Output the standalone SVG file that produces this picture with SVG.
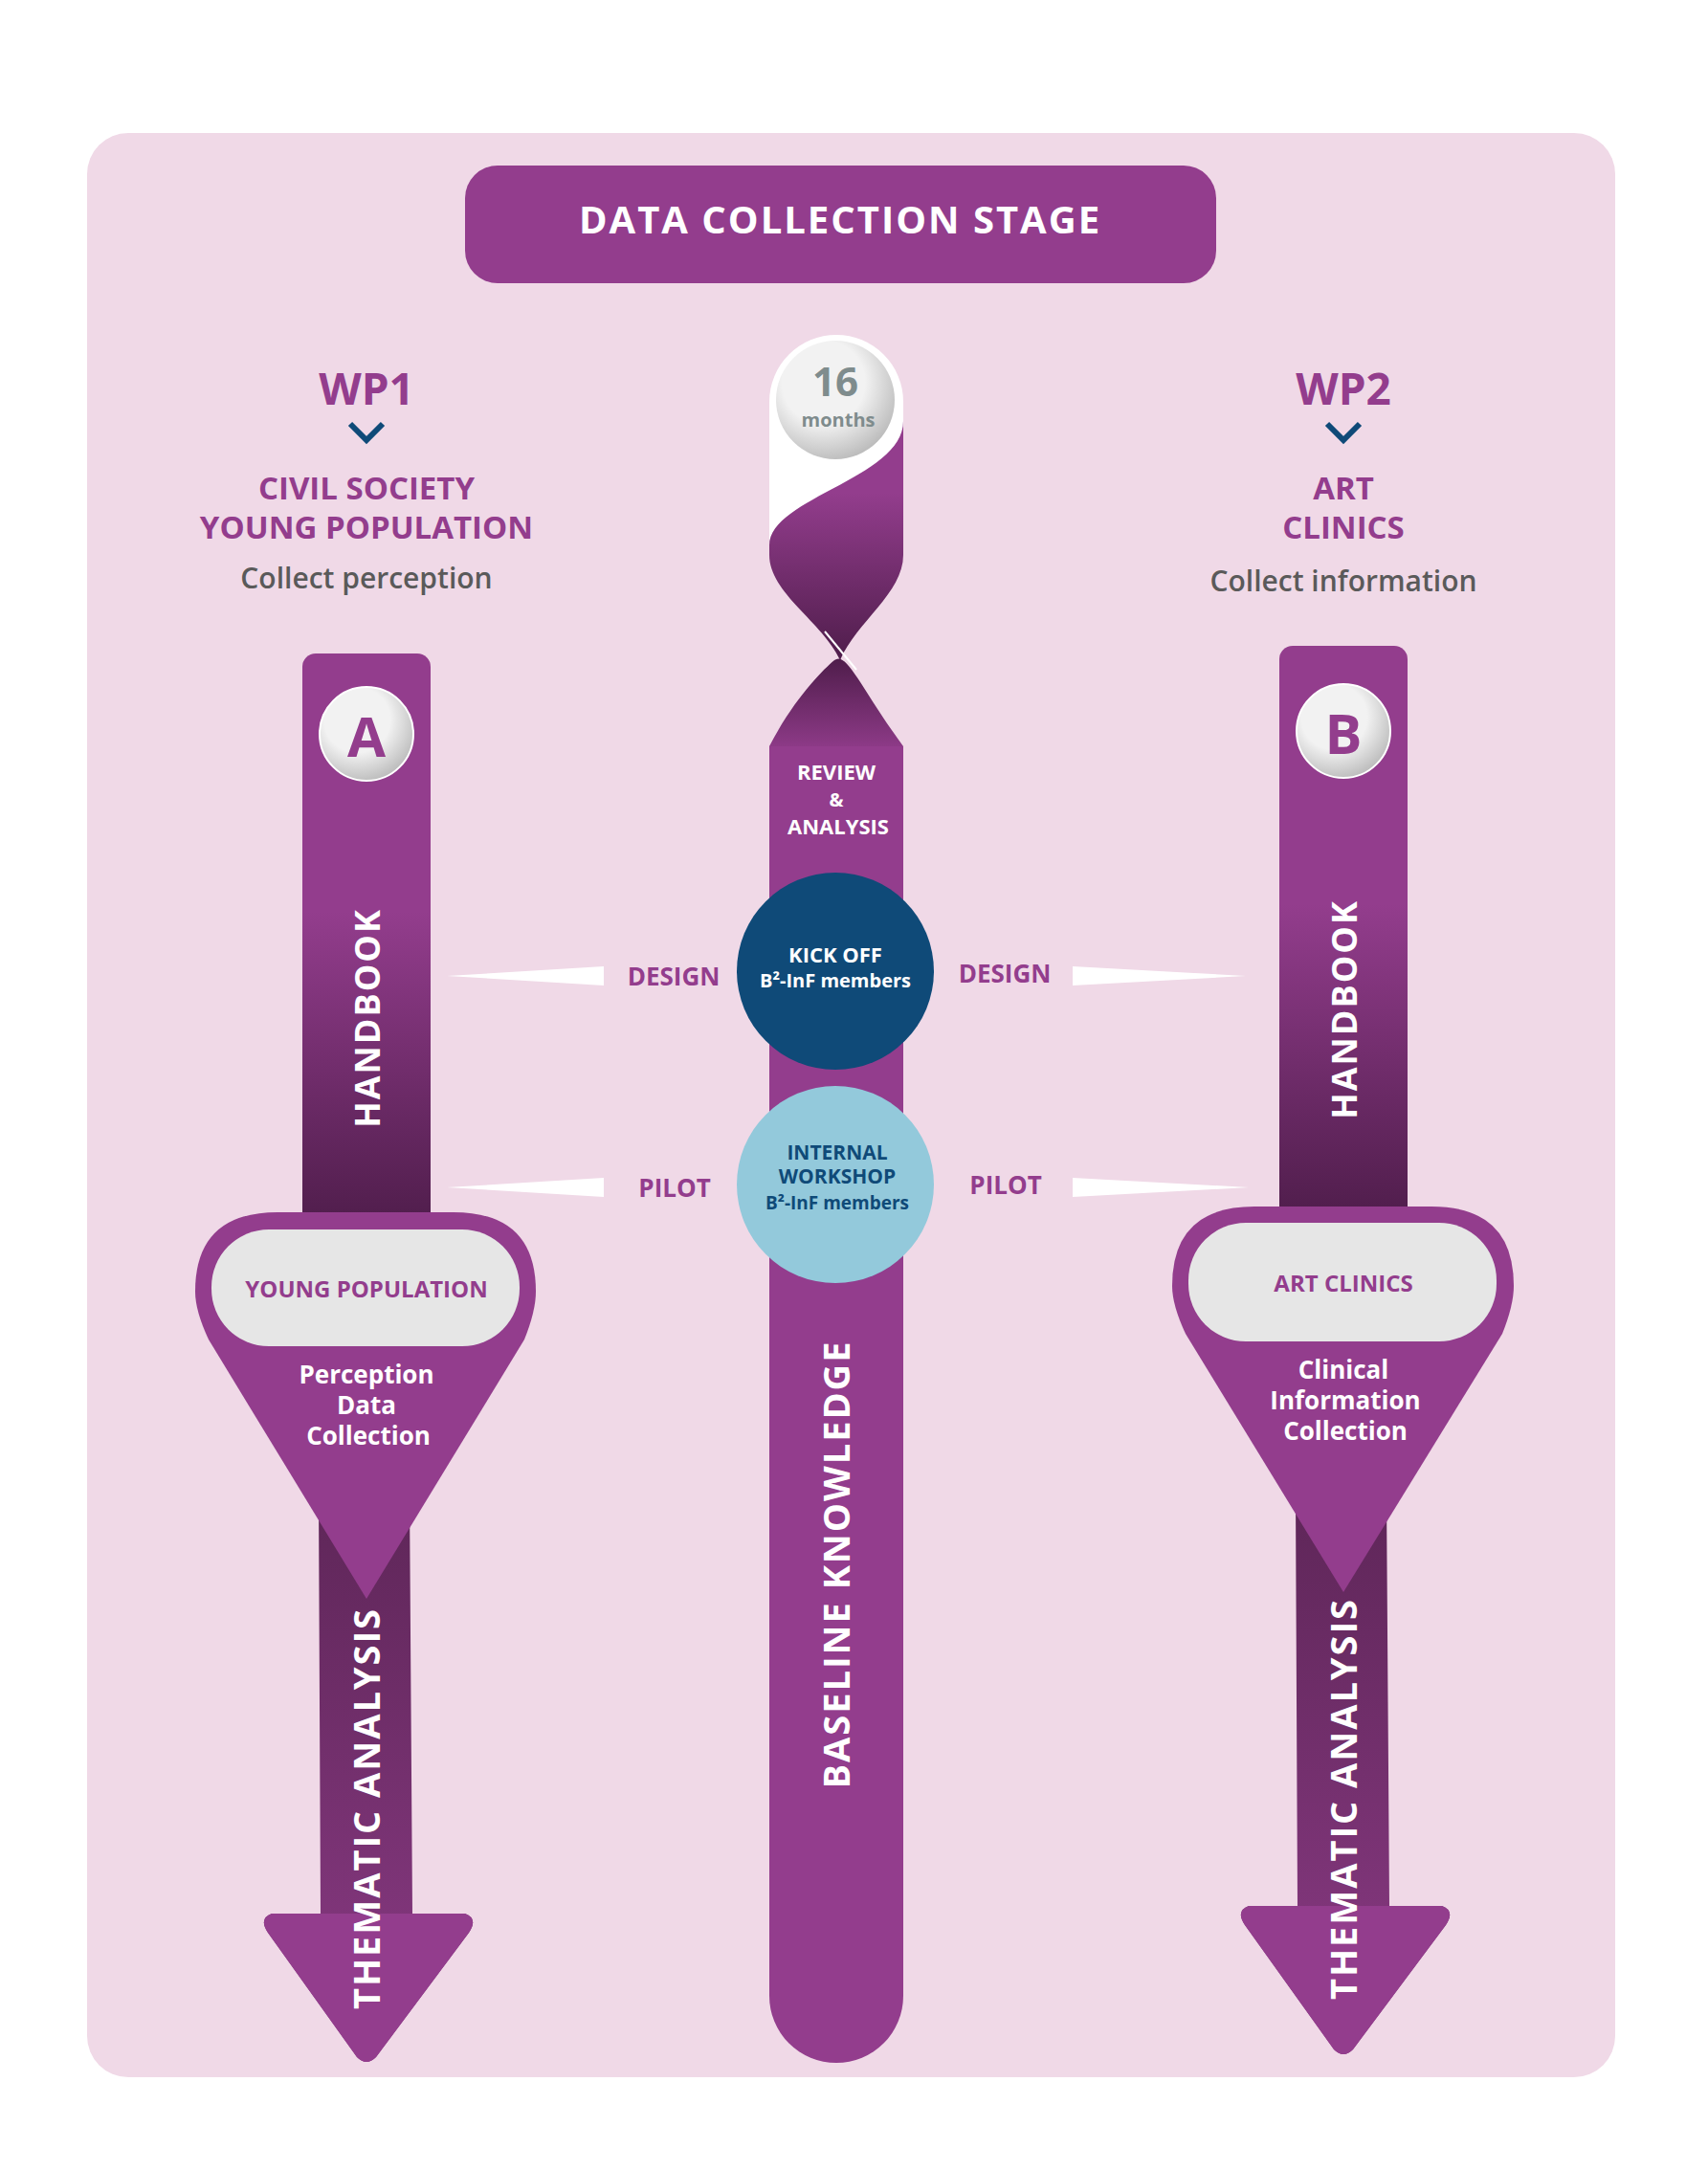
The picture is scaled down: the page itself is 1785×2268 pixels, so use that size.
<svg xmlns="http://www.w3.org/2000/svg" width="1785" height="2268" viewBox="0 0 1785 2268">
<defs>
<linearGradient id="barG" x1="0" y1="0" x2="0" y2="1"><stop offset="0.45" stop-color="#933d8d"/><stop offset="1" stop-color="#4f1d4b"/></linearGradient>
<linearGradient id="shaftG" x1="0" y1="0" x2="0" y2="1"><stop offset="0" stop-color="#5e2658"/><stop offset="1" stop-color="#8a3a84"/></linearGradient>
<linearGradient id="twU" x1="0" y1="0" x2="0" y2="1"><stop offset="0.3" stop-color="#933d8d"/><stop offset="1" stop-color="#4f1d4b"/></linearGradient>
<linearGradient id="twL" x1="0" y1="0" x2="0" y2="1"><stop offset="0" stop-color="#4f1d4b"/><stop offset="1" stop-color="#933d8d"/></linearGradient>
<radialGradient id="circG" cx="0.4" cy="0.35" r="0.7"><stop offset="0.5" stop-color="#f2f2f2"/><stop offset="1" stop-color="#b8b8b8"/></radialGradient>
<style>
text{font-family:"Open Sans","Liberation Sans",sans-serif;text-anchor:middle;font-weight:700}
.w{fill:#fff}.p{fill:#933d8d}.g{fill:#5a5a5a;font-weight:600}
.lbl{font-size:26px;fill:#933d8d}
.wedge{fill:#fff}
</style>
</defs>
<rect x="91" y="139" width="1597" height="2032" rx="43" fill="#f0d9e7"/>
<g id="title"><rect x="486" y="173" width="785" height="123" rx="34" fill="#933d8d"/><text x="878" y="244" class="w" font-size="40" letter-spacing="2">DATA COLLECTION STAGE</text></g>
<g id="wp1">
<text x="383" y="423" class="p" font-size="46" font-weight="500">WP<tspan font-weight="700">1</tspan></text>
<path d="M366 443 L383 460 L400 443" fill="none" stroke="#0f4a78" stroke-width="6"/>
<text x="383" y="522" class="p" font-size="33">CIVIL SOCIETY</text>
<text x="383" y="563" class="p" font-size="33">YOUNG POPULATION</text>
<text x="383" y="615" class="g" font-size="30">Collect perception</text>
</g>
<g id="wp2">
<text x="1404" y="423" class="p" font-size="46" font-weight="500">WP<tspan font-weight="700">2</tspan></text>
<path d="M1387 443 L1404 460 L1421 443" fill="none" stroke="#0f4a78" stroke-width="6"/>
<text x="1404" y="522" class="p" font-size="33">ART</text>
<text x="1404" y="563" class="p" font-size="33">CLINICS</text>
<text x="1404" y="618" class="g" font-size="30">Collect information</text>
</g>
<g id="connectors">
<polygon class="wedge" points="467,1020 631,1010 631,1030"/>
<polygon class="wedge" points="1302,1020 1121,1010 1121,1030"/>
<polygon class="wedge" points="467,1241 631,1231 631,1251"/>
<polygon class="wedge" points="1305,1241 1121,1231 1121,1251"/>
<text x="704" y="1030" class="lbl">DESIGN</text>
<text x="1050" y="1027" class="lbl">DESIGN</text>
<text x="705" y="1251" class="lbl">PILOT</text>
<text x="1051" y="1248" class="lbl">PILOT</text>
</g>
<g id="left">
<path d="M333 1560 H428 L431 2000 H486 Q500 2005 490 2020 L393 2150 Q383 2160 373 2150 L280 2020 Q270 2005 284 2000 H335 Z" fill="url(#shaftG)"/>
<path d="M284 2000 H486 Q500 2005 490 2020 L393 2150 Q383 2160 373 2150 L280 2020 Q270 2005 284 2000 Z" fill="#933d8d"/>
<rect x="316" y="683" width="134" height="600" rx="14" fill="url(#barG)"/>
<circle cx="383" cy="767" r="49" fill="url(#circG)" stroke="#fff" stroke-width="2"/>
<text x="383" y="791" class="p" font-size="58">A</text>
<text transform="translate(397 1064) rotate(-90)" class="w" font-size="36" letter-spacing="2">HANDBOOK</text>
<path d="M290 1267 H474 Q560 1267 560 1350 Q560 1370 548 1400 L383 1671 L218 1400 Q204 1370 204 1350 Q204 1267 290 1267 Z" fill="#933d8d"/>
<rect x="221" y="1285" width="322" height="122" rx="60" fill="#e6e6e6"/>
<text x="383" y="1356" class="p" font-size="24">YOUNG POPULATION</text>
<text x="383" y="1446" class="w" font-size="26">Perception</text>
<text x="383" y="1478" class="w" font-size="26">Data</text>
<text x="385" y="1510" class="w" font-size="26">Collection</text>
<text transform="translate(397 1890) rotate(-90)" class="w" font-size="38" letter-spacing="2">THEMATIC ANALYSIS</text>
</g>
<g id="right">
<path d="M1354 1560 H1449 L1452 1992 H1507 Q1521 1997 1511 2012 L1414 2142 Q1404 2152 1394 2142 L1301 2012 Q1291 1997 1305 1992 H1356 Z" fill="url(#shaftG)"/>
<path d="M1305 1992 H1507 Q1521 1997 1511 2012 L1414 2142 Q1404 2152 1394 2142 L1301 2012 Q1291 1997 1305 1992 Z" fill="#933d8d"/>
<rect x="1337" y="675" width="134" height="600" rx="14" fill="url(#barG)"/>
<circle cx="1404" cy="764" r="49" fill="url(#circG)" stroke="#fff" stroke-width="2"/>
<text x="1404" y="788" class="p" font-size="58">B</text>
<text transform="translate(1418 1055) rotate(-90)" class="w" font-size="36" letter-spacing="2">HANDBOOK</text>
<path d="M1311 1261 H1496 Q1582 1261 1582 1344 Q1582 1364 1570 1394 L1404 1664 L1239 1394 Q1225 1364 1225 1344 Q1225 1261 1311 1261 Z" fill="#933d8d"/>
<rect x="1242" y="1278" width="322" height="124" rx="60" fill="#e6e6e6"/>
<text x="1404" y="1350" class="p" font-size="24">ART CLINICS</text>
<text x="1404" y="1441" class="w" font-size="26">Clinical</text>
<text x="1406" y="1473" class="w" font-size="26">Information</text>
<text x="1406" y="1505" class="w" font-size="26">Collection</text>
<text transform="translate(1418 1880) rotate(-90)" class="w" font-size="38" letter-spacing="2">THEMATIC ANALYSIS</text>
</g>
<g id="center">
<path d="M804 420 A70 70 0 0 1 944 420 V455 C944 500 804 520 804 570 Z" fill="#fff"/>
<path d="M944 440 V580 C944 620 895 650 878 690 C860 650 804 620 804 580 V570 C804 520 944 500 944 440 Z" fill="url(#twU)"/>
<path d="M872 690 C885 680 900 720 944 780 V790 H804 V780 C830 730 860 700 872 690 Z" fill="url(#twL)"/>
<path d="M862 660 L895 700" stroke="#fff" stroke-width="2"/>
<path d="M804 780 H944 V2086 A70 70 0 0 1 804 2086 Z" fill="#933d8d"/>
<circle cx="873" cy="418" r="62" fill="url(#circG)"/>
<text x="873" y="414" fill="#7f8c8d" font-size="42">16</text>
<text x="876" y="446" fill="#7f8c8d" font-size="20">months</text>
<text x="874" y="815" class="w" font-size="22" font-weight="500">REVIEW</text>
<text x="874" y="843" class="w" font-size="20" font-weight="500">&amp;</text>
<text x="876" y="872" class="w" font-size="22">ANALYSIS</text>
<text transform="translate(888 1635) rotate(-90)" class="w" font-size="38" letter-spacing="2">BASELINE KNOWLEDGE</text>
</g>
<g id="kickoff"><circle cx="873" cy="1015" r="103" fill="#0f4a78"/>
<text x="873" y="1006" class="w" font-size="22">KICK OFF</text>
<text x="873" y="1032" class="w" font-size="20" font-weight="600">B²-InF members</text></g>
<g id="workshop"><circle cx="873" cy="1238" r="103" fill="#93c9db"/>
<text x="875" y="1212" fill="#0f4a78" font-size="21">INTERNAL</text>
<text x="875" y="1237" fill="#0f4a78" font-size="21">WORKSHOP</text>
<text x="875" y="1264" fill="#0f4a78" font-size="19" font-weight="600">B²-InF members</text></g>
</svg>
